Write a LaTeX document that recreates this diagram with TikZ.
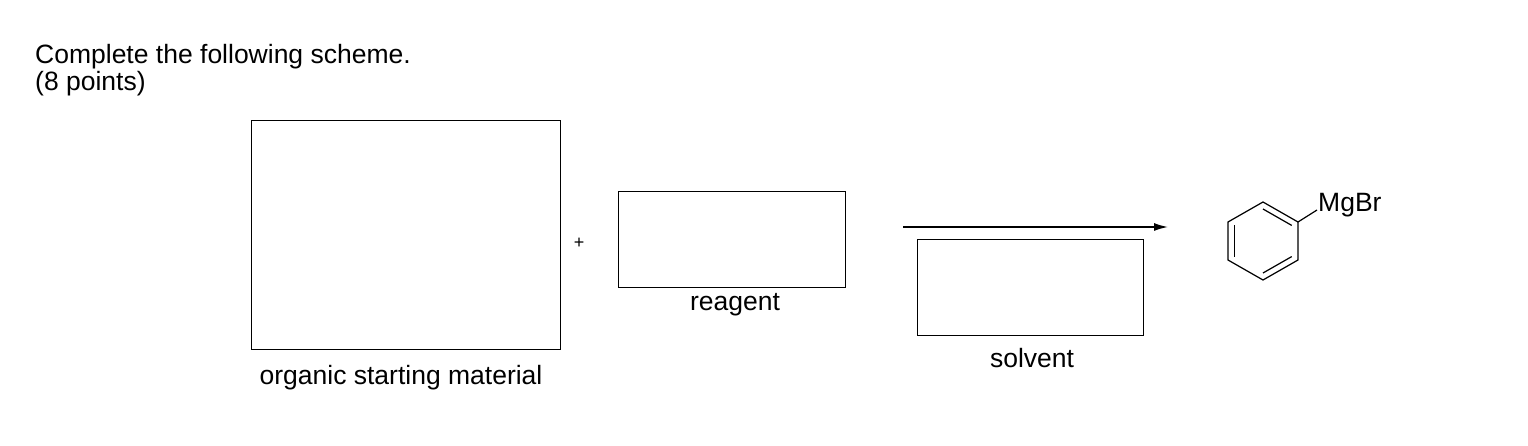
\documentclass[tikz,border=0pt]{standalone}
\usepackage{fontspec}
\setmainfont{Liberation Sans}
\usetikzlibrary{arrows.meta,calc}
\begin{document}
\begin{tikzpicture}[x=1pt,y=-1pt,
  box/.style={draw,line width=1.3pt},
  lbl/.style={font=\fontsize{26.5}{30}\selectfont,inner sep=0pt},
  bond/.style={line width=1.2pt}]
\useasboundingbox (0,0) rectangle (1528,446);
\node[lbl,anchor=west] (t1) at (35,57) {Complete the following scheme.};
\node[lbl,anchor=west] (t2) at (35,84) {(8 points)};
\node[box,minimum width=309,minimum height=229,anchor=north west] (sm) at (251,120) {};
\node[box,minimum width=227,minimum height=96,anchor=north west] (rg) at (618,191) {};
\node[box,minimum width=226,minimum height=96,anchor=north west] (sv) at (917,239) {};
\node[lbl] (smL) at (401,378) {organic starting material};
\node[lbl] (rgL) at (735,305) {reagent};
\node[lbl] (svL) at (1032,358) {solvent};
\node[font=\fontsize{18}{20}\selectfont] (plus) at (579,243) {+};
\coordinate (a1) at (903,227); \coordinate (a2) at (1168,227);
\draw[line width=1.5pt,-{Latex[length=14pt,width=8pt]}] (a1) -- (a2);
\coordinate (v1) at (1263,202); \coordinate (v2) at (1298,222);
\coordinate (v3) at (1298,260); \coordinate (v4) at (1263,280);
\coordinate (v5) at (1228,260); \coordinate (v6) at (1228,222);
\coordinate (c) at (1263,241);
\draw[bond] (v1)--(v2)--(v3)--(v4)--(v5)--(v6)--cycle;
\draw[bond] ($(c)!0.82!(v1)$) -- ($(c)!0.82!(v2)$);
\draw[bond] ($(c)!0.82!(v5)$) -- ($(c)!0.82!(v6)$);
\draw[bond] ($(c)!0.82!(v3)$) -- ($(c)!0.82!(v4)$);
\coordinate (b) at (1317,210);
\draw[bond] (v2) -- (b);
\node[lbl,anchor=west] (mg) at (1318,205) {MgBr};
\end{tikzpicture}
\end{document}
